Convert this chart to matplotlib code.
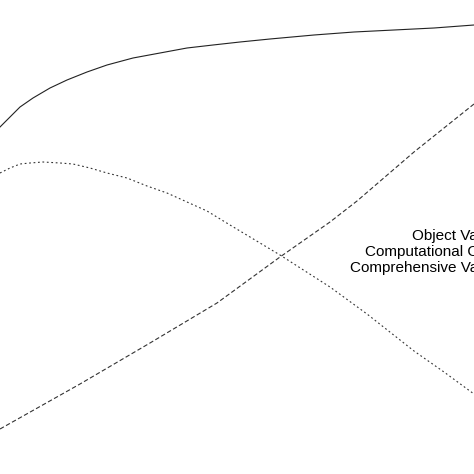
import matplotlib
matplotlib.use("Agg")
import matplotlib.pyplot as plt

plt.rcParams['font.family'] = ['Liberation Sans', 'DejaVu Sans']

# x positions (arbitrary units across the visible width, 0..474)
x_obj = [0, 10, 20, 33, 50, 67, 87, 107, 133, 160, 187, 213, 240, 270, 314, 354, 394, 434, 474]
y_obj = [347, 357, 367, 376, 386, 394, 402, 409, 416, 421, 426, 429, 432, 435, 439, 442, 444, 446, 449]

x_cost = [0, 10, 20, 30, 43, 60, 73, 90, 107, 127, 147, 167, 187, 207, 230, 255, 280, 305, 330, 367, 414, 444, 474]
y_cost = [301, 306, 310, 311, 312, 311, 310, 306, 301, 296, 288, 281, 272, 263, 249, 234, 219, 203, 187, 160, 123, 102, 80]

x_comp = [0, 80, 150, 217, 280, 330, 357, 414, 474]
y_comp = [45, 90, 131, 171, 217, 252, 273, 322, 370]

labels = ["Object Value", "Computational Cost", "Comprehensive Value"]

fig = plt.figure(figsize=(4.74, 4.74), dpi=100)
ax = fig.add_axes([0, 0, 1, 1])
ax.plot(x_obj, y_obj, color='#222222', lw=0.8, linestyle='-', label=labels[0])
ax.plot(x_cost, y_cost, color='#333333', lw=0.8, linestyle=(0, (1.6, 2.4)), label=labels[1])
ax.plot(x_comp, y_comp, color='#333333', lw=0.8, linestyle=(0, (4, 2.2)), label=labels[2])
ax.set_xlim(0, 474)
ax.set_ylim(0, 474)
ax.axis('off')

ax.legend(loc='center left', bbox_to_anchor=(350 / 474, 1 - 252 / 474),
          frameon=False, markerfirst=False, borderpad=0, borderaxespad=0,
          fontsize=11, labelspacing=0.15, handletextpad=0.8)

fig.savefig("out.png", dpi=100)
